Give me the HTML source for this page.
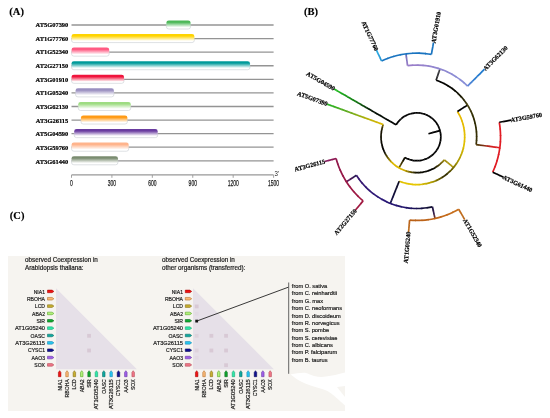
<!DOCTYPE html><html><head><meta charset="utf-8"><title>Figure</title>
<style>html,body{margin:0;padding:0;background:#fff}svg{display:block;filter:blur(0.35px)}.se{font-family:"Liberation Serif",serif;font-weight:bold}.sa{font-family:"Liberation Sans",sans-serif}</style></head><body>
<svg width="550" height="418" viewBox="0 0 550 418">
<rect width="550" height="418" fill="#fff"/>
<defs><linearGradient id="sg" x1="0" y1="0" x2="0" y2="1"><stop offset="0.3" stop-color="#c8cdd2" stop-opacity="0"/><stop offset="0.7" stop-color="#c8cdd2"/></linearGradient><linearGradient id="g0" x1="0" y1="0" x2="0" y2="1"><stop offset="0" stop-color="#4cb858"/><stop offset="0.22" stop-color="#4cb858"/><stop offset="0.8" stop-color="#fff"/><stop offset="1" stop-color="#fff"/></linearGradient><linearGradient id="g1" x1="0" y1="0" x2="0" y2="1"><stop offset="0" stop-color="#ffd400"/><stop offset="0.22" stop-color="#ffd400"/><stop offset="0.8" stop-color="#fff"/><stop offset="1" stop-color="#fff"/></linearGradient><linearGradient id="g2" x1="0" y1="0" x2="0" y2="1"><stop offset="0" stop-color="#ff5a82"/><stop offset="0.22" stop-color="#ff5a82"/><stop offset="0.8" stop-color="#fff"/><stop offset="1" stop-color="#fff"/></linearGradient><linearGradient id="g3" x1="0" y1="0" x2="0" y2="1"><stop offset="0" stop-color="#009a9a"/><stop offset="0.22" stop-color="#009a9a"/><stop offset="0.8" stop-color="#fff"/><stop offset="1" stop-color="#fff"/></linearGradient><linearGradient id="g4" x1="0" y1="0" x2="0" y2="1"><stop offset="0" stop-color="#f0143c"/><stop offset="0.22" stop-color="#f0143c"/><stop offset="0.8" stop-color="#fff"/><stop offset="1" stop-color="#fff"/></linearGradient><linearGradient id="g5" x1="0" y1="0" x2="0" y2="1"><stop offset="0" stop-color="#9a8fc0"/><stop offset="0.22" stop-color="#9a8fc0"/><stop offset="0.8" stop-color="#fff"/><stop offset="1" stop-color="#fff"/></linearGradient><linearGradient id="g6" x1="0" y1="0" x2="0" y2="1"><stop offset="0" stop-color="#9edc82"/><stop offset="0.22" stop-color="#9edc82"/><stop offset="0.8" stop-color="#fff"/><stop offset="1" stop-color="#fff"/></linearGradient><linearGradient id="g7" x1="0" y1="0" x2="0" y2="1"><stop offset="0" stop-color="#ff9a14"/><stop offset="0.22" stop-color="#ff9a14"/><stop offset="0.8" stop-color="#fff"/><stop offset="1" stop-color="#fff"/></linearGradient><linearGradient id="g8" x1="0" y1="0" x2="0" y2="1"><stop offset="0" stop-color="#6a3ca0"/><stop offset="0.22" stop-color="#6a3ca0"/><stop offset="0.8" stop-color="#fff"/><stop offset="1" stop-color="#fff"/></linearGradient><linearGradient id="g9" x1="0" y1="0" x2="0" y2="1"><stop offset="0" stop-color="#ffb48c"/><stop offset="0.22" stop-color="#ffb48c"/><stop offset="0.8" stop-color="#fff"/><stop offset="1" stop-color="#fff"/></linearGradient><linearGradient id="g10" x1="0" y1="0" x2="0" y2="1"><stop offset="0" stop-color="#7a8c70"/><stop offset="0.22" stop-color="#7a8c70"/><stop offset="0.8" stop-color="#fff"/><stop offset="1" stop-color="#fff"/></linearGradient></defs>
<text class="se" x="9.3" y="15.0" font-size="10.5" stroke="#000" stroke-width="0.15">(A)</text>
<line x1="71.5" y1="25.00" x2="273.6" y2="25.00" stroke="#949494" stroke-width="1.3"/>
<rect x="166.35" y="20.40" width="24.25" height="8.6" rx="2.4" fill="url(#g0)" stroke="url(#sg)" stroke-width="0.6"/>
<text class="se" x="68.3" y="27.20" font-size="6.45" text-anchor="end" stroke="#000" stroke-width="0.2">AT5G07390</text>
<line x1="71.5" y1="38.58" x2="273.6" y2="38.58" stroke="#949494" stroke-width="1.3"/>
<rect x="71.50" y="33.98" width="122.88" height="8.6" rx="2.4" fill="url(#g1)" stroke="url(#sg)" stroke-width="0.6"/>
<text class="se" x="68.3" y="40.84" font-size="6.45" text-anchor="end" stroke="#000" stroke-width="0.2">AT1G77760</text>
<line x1="71.5" y1="52.16" x2="273.6" y2="52.16" stroke="#949494" stroke-width="1.3"/>
<rect x="71.50" y="47.56" width="37.73" height="8.6" rx="2.4" fill="url(#g2)" stroke="url(#sg)" stroke-width="0.6"/>
<text class="se" x="68.3" y="54.48" font-size="6.45" text-anchor="end" stroke="#000" stroke-width="0.2">AT1G52340</text>
<line x1="71.5" y1="65.74" x2="273.6" y2="65.74" stroke="#949494" stroke-width="1.3"/>
<rect x="71.50" y="61.14" width="178.52" height="8.6" rx="2.4" fill="url(#g3)" stroke="url(#sg)" stroke-width="0.6"/>
<text class="se" x="68.3" y="68.12" font-size="6.45" text-anchor="end" stroke="#000" stroke-width="0.2">AT2G27150</text>
<line x1="71.5" y1="79.32" x2="273.6" y2="79.32" stroke="#949494" stroke-width="1.3"/>
<rect x="71.50" y="74.72" width="52.55" height="8.6" rx="2.4" fill="url(#g4)" stroke="url(#sg)" stroke-width="0.6"/>
<text class="se" x="68.3" y="81.76" font-size="6.45" text-anchor="end" stroke="#000" stroke-width="0.2">AT3G01910</text>
<line x1="71.5" y1="92.90" x2="273.6" y2="92.90" stroke="#949494" stroke-width="1.3"/>
<rect x="75.54" y="88.30" width="38.40" height="8.6" rx="2.4" fill="url(#g5)" stroke="url(#sg)" stroke-width="0.6"/>
<text class="se" x="68.3" y="95.40" font-size="6.45" text-anchor="end" stroke="#000" stroke-width="0.2">AT1G05240</text>
<line x1="71.5" y1="106.48" x2="273.6" y2="106.48" stroke="#949494" stroke-width="1.3"/>
<rect x="78.24" y="101.88" width="52.55" height="8.6" rx="2.4" fill="url(#g6)" stroke="url(#sg)" stroke-width="0.6"/>
<text class="se" x="68.3" y="109.04" font-size="6.45" text-anchor="end" stroke="#000" stroke-width="0.2">AT3G62130</text>
<line x1="71.5" y1="120.06" x2="273.6" y2="120.06" stroke="#949494" stroke-width="1.3"/>
<rect x="80.93" y="115.46" width="46.48" height="8.6" rx="2.4" fill="url(#g7)" stroke="url(#sg)" stroke-width="0.6"/>
<text class="se" x="68.3" y="122.68" font-size="6.45" text-anchor="end" stroke="#000" stroke-width="0.2">AT3G26115</text>
<line x1="71.5" y1="133.64" x2="273.6" y2="133.64" stroke="#949494" stroke-width="1.3"/>
<rect x="74.19" y="129.04" width="83.53" height="8.6" rx="2.4" fill="url(#g8)" stroke="url(#sg)" stroke-width="0.6"/>
<text class="se" x="68.3" y="136.32" font-size="6.45" text-anchor="end" stroke="#000" stroke-width="0.2">AT5G04590</text>
<line x1="71.5" y1="147.22" x2="273.6" y2="147.22" stroke="#949494" stroke-width="1.3"/>
<rect x="71.50" y="142.62" width="57.26" height="8.6" rx="2.4" fill="url(#g9)" stroke="url(#sg)" stroke-width="0.6"/>
<text class="se" x="68.3" y="149.96" font-size="6.45" text-anchor="end" stroke="#000" stroke-width="0.2">AT3G59760</text>
<line x1="71.5" y1="160.80" x2="273.6" y2="160.80" stroke="#949494" stroke-width="1.3"/>
<rect x="71.50" y="156.20" width="46.48" height="8.6" rx="2.4" fill="url(#g10)" stroke="url(#sg)" stroke-width="0.6"/>
<text class="se" x="68.3" y="163.60" font-size="6.45" text-anchor="end" stroke="#000" stroke-width="0.2">AT3G61440</text>
<line x1="71.5" y1="174.9" x2="273.6" y2="174.9" stroke="#989898" stroke-width="1.3"/>
<line x1="71.50" y1="175" x2="71.50" y2="177.8" stroke="#999" stroke-width="0.9"/>
<text class="sa" x="71.50" y="186.2" font-size="8.6" text-anchor="middle" textLength="2.8" lengthAdjust="spacingAndGlyphs" fill="#222" stroke="#222" stroke-width="0.25">0</text>
<line x1="111.92" y1="175" x2="111.92" y2="177.8" stroke="#999" stroke-width="0.9"/>
<text class="sa" x="111.92" y="186.2" font-size="8.6" text-anchor="middle" textLength="8.3" lengthAdjust="spacingAndGlyphs" fill="#222" stroke="#222" stroke-width="0.25">300</text>
<line x1="152.34" y1="175" x2="152.34" y2="177.8" stroke="#999" stroke-width="0.9"/>
<text class="sa" x="152.34" y="186.2" font-size="8.6" text-anchor="middle" textLength="8.3" lengthAdjust="spacingAndGlyphs" fill="#222" stroke="#222" stroke-width="0.25">600</text>
<line x1="192.76" y1="175" x2="192.76" y2="177.8" stroke="#999" stroke-width="0.9"/>
<text class="sa" x="192.76" y="186.2" font-size="8.6" text-anchor="middle" textLength="8.3" lengthAdjust="spacingAndGlyphs" fill="#222" stroke="#222" stroke-width="0.25">900</text>
<line x1="233.18" y1="175" x2="233.18" y2="177.8" stroke="#999" stroke-width="0.9"/>
<text class="sa" x="233.18" y="186.2" font-size="8.6" text-anchor="middle" textLength="11.1" lengthAdjust="spacingAndGlyphs" fill="#222" stroke="#222" stroke-width="0.25">1200</text>
<line x1="273.60" y1="175" x2="273.60" y2="177.8" stroke="#999" stroke-width="0.9"/>
<text class="sa" x="273.60" y="186.2" font-size="8.6" text-anchor="middle" textLength="11.1" lengthAdjust="spacingAndGlyphs" fill="#222" stroke="#222" stroke-width="0.25">1500</text>
<text class="sa" x="274.6" y="176.4" font-size="7.4" fill="#222" textLength="4.6" lengthAdjust="spacingAndGlyphs">3'</text>
<text class="se" x="304" y="15.0" font-size="10.5" stroke="#000" stroke-width="0.15">(B)</text>
<line x1="428.44" y1="133.71" x2="432.58" y2="132.60" stroke="rgb(0, 0, 0)" stroke-width="1.7" stroke-linecap="butt"/>
<line x1="432.29" y1="132.68" x2="436.43" y2="131.57" stroke="rgb(0, 0, 0)" stroke-width="1.7" stroke-linecap="butt"/>
<line x1="436.14" y1="131.65" x2="439.99" y2="130.61" stroke="rgb(0, 0, 0)" stroke-width="1.7" stroke-linecap="butt"/>
<path d="M396.20 124.85A23.9 23.9 0 0 1 397.23 123.22" fill="none" stroke="rgb(0, 0, 0)" stroke-width="1.7"/>
<path d="M397.09 123.42A23.9 23.9 0 0 1 398.24 121.87" fill="none" stroke="rgb(0, 0, 0)" stroke-width="1.7"/>
<path d="M398.08 122.07A23.9 23.9 0 0 1 399.33 120.60" fill="none" stroke="rgb(0, 0, 0)" stroke-width="1.7"/>
<path d="M399.16 120.78A23.9 23.9 0 0 1 400.51 119.40" fill="none" stroke="rgb(0, 0, 0)" stroke-width="1.7"/>
<path d="M400.33 119.57A23.9 23.9 0 0 1 401.78 118.29" fill="none" stroke="rgb(0, 0, 0)" stroke-width="1.7"/>
<path d="M401.59 118.45A23.9 23.9 0 0 1 403.12 117.28" fill="none" stroke="rgb(0, 0, 0)" stroke-width="1.7"/>
<path d="M402.91 117.42A23.9 23.9 0 0 1 404.52 116.35" fill="none" stroke="rgb(0, 0, 0)" stroke-width="1.7"/>
<path d="M404.31 116.49A23.9 23.9 0 0 1 405.99 115.54" fill="none" stroke="rgb(0, 0, 0)" stroke-width="1.7"/>
<path d="M405.77 115.65A23.9 23.9 0 0 1 407.51 114.82" fill="none" stroke="rgb(0, 0, 0)" stroke-width="1.7"/>
<path d="M407.28 114.92A23.9 23.9 0 0 1 409.08 114.22" fill="none" stroke="rgb(0, 0, 0)" stroke-width="1.7"/>
<path d="M408.84 114.30A23.9 23.9 0 0 1 410.69 113.72" fill="none" stroke="rgb(0, 0, 0)" stroke-width="1.7"/>
<path d="M410.44 113.79A23.9 23.9 0 0 1 412.32 113.34" fill="none" stroke="rgb(0, 0, 0)" stroke-width="1.7"/>
<path d="M412.08 113.39A23.9 23.9 0 0 1 413.98 113.08" fill="none" stroke="rgb(0, 0, 0)" stroke-width="1.7"/>
<path d="M413.73 113.11A23.9 23.9 0 0 1 415.66 112.93" fill="none" stroke="rgb(0, 0, 0)" stroke-width="1.7"/>
<path d="M415.41 112.95A23.9 23.9 0 0 1 417.34 112.90" fill="none" stroke="rgb(0, 0, 0)" stroke-width="1.7"/>
<path d="M417.09 112.90A23.9 23.9 0 0 1 419.02 112.99" fill="none" stroke="rgb(0, 0, 0)" stroke-width="1.7"/>
<path d="M418.77 112.97A23.9 23.9 0 0 1 420.68 113.20" fill="none" stroke="rgb(0, 0, 0)" stroke-width="1.7"/>
<path d="M420.44 113.16A23.9 23.9 0 0 1 422.33 113.53" fill="none" stroke="rgb(0, 0, 0)" stroke-width="1.7"/>
<path d="M422.09 113.47A23.9 23.9 0 0 1 423.95 113.96" fill="none" stroke="rgb(0, 0, 0)" stroke-width="1.7"/>
<path d="M423.71 113.89A23.9 23.9 0 0 1 425.54 114.52" fill="none" stroke="rgb(0, 0, 0)" stroke-width="1.7"/>
<path d="M425.31 114.43A23.9 23.9 0 0 1 427.09 115.18" fill="none" stroke="rgb(0, 0, 0)" stroke-width="1.7"/>
<path d="M426.86 115.07A23.9 23.9 0 0 1 428.58 115.95" fill="none" stroke="rgb(0, 0, 0)" stroke-width="1.7"/>
<path d="M428.36 115.83A23.9 23.9 0 0 1 430.02 116.82" fill="none" stroke="rgb(0, 0, 0)" stroke-width="1.7"/>
<path d="M429.81 116.68A23.9 23.9 0 0 1 431.39 117.79" fill="none" stroke="rgb(0, 0, 0)" stroke-width="1.7"/>
<path d="M431.19 117.64A23.9 23.9 0 0 1 432.69 118.86" fill="none" stroke="rgb(0, 0, 0)" stroke-width="1.7"/>
<path d="M432.50 118.69A23.9 23.9 0 0 1 433.91 120.01" fill="none" stroke="rgb(0, 0, 0)" stroke-width="1.7"/>
<path d="M433.73 119.83A23.9 23.9 0 0 1 435.05 121.25" fill="none" stroke="rgb(0, 0, 0)" stroke-width="1.7"/>
<path d="M434.88 121.06A23.9 23.9 0 0 1 436.10 122.56" fill="none" stroke="rgb(0, 0, 0)" stroke-width="1.7"/>
<path d="M435.95 122.36A23.9 23.9 0 0 1 437.05 123.95" fill="none" stroke="rgb(0, 0, 0)" stroke-width="1.7"/>
<path d="M436.91 123.74A23.9 23.9 0 0 1 437.90 125.39" fill="none" stroke="rgb(0, 0, 0)" stroke-width="1.7"/>
<path d="M437.78 125.17A23.9 23.9 0 0 1 438.65 126.90" fill="none" stroke="rgb(0, 0, 0)" stroke-width="1.7"/>
<path d="M438.55 126.67A23.9 23.9 0 0 1 439.29 128.45" fill="none" stroke="rgb(0, 0, 0)" stroke-width="1.7"/>
<path d="M439.21 128.22A23.9 23.9 0 0 1 439.83 130.05" fill="none" stroke="rgb(0, 0, 0)" stroke-width="1.7"/>
<path d="M439.75 129.81A23.9 23.9 0 0 1 440.24 131.67" fill="none" stroke="rgb(0, 0, 0)" stroke-width="1.7"/>
<path d="M440.19 131.43A23.9 23.9 0 0 1 440.55 133.33" fill="none" stroke="rgb(0, 0, 0)" stroke-width="1.7"/>
<path d="M440.51 133.08A23.9 23.9 0 0 1 440.73 135.00" fill="none" stroke="rgb(0, 0, 0)" stroke-width="1.7"/>
<path d="M440.71 134.75A23.9 23.9 0 0 1 440.80 136.68" fill="none" stroke="rgb(0, 0, 0)" stroke-width="1.7"/>
<path d="M440.80 136.43A23.9 23.9 0 0 1 440.75 138.36" fill="none" stroke="rgb(0, 0, 0)" stroke-width="1.7"/>
<path d="M440.76 138.11A23.9 23.9 0 0 1 440.58 140.03" fill="none" stroke="rgb(0, 0, 0)" stroke-width="1.7"/>
<path d="M440.61 139.78A23.9 23.9 0 0 1 440.30 141.69" fill="none" stroke="rgb(0, 0, 0)" stroke-width="1.7"/>
<path d="M440.35 141.44A23.9 23.9 0 0 1 439.89 143.32" fill="none" stroke="rgb(0, 0, 0)" stroke-width="1.7"/>
<path d="M439.96 143.08A23.9 23.9 0 0 1 439.38 144.92" fill="none" stroke="rgb(0, 0, 0)" stroke-width="1.7"/>
<path d="M439.46 144.68A23.9 23.9 0 0 1 438.75 146.48" fill="none" stroke="rgb(0, 0, 0)" stroke-width="1.7"/>
<path d="M438.85 146.25A23.9 23.9 0 0 1 438.02 147.99" fill="none" stroke="rgb(0, 0, 0)" stroke-width="1.7"/>
<path d="M438.14 147.77A23.9 23.9 0 0 1 437.18 149.45" fill="none" stroke="rgb(0, 0, 0)" stroke-width="1.7"/>
<path d="M437.31 149.23A23.9 23.9 0 0 1 436.24 150.84" fill="none" stroke="rgb(0, 0, 0)" stroke-width="1.7"/>
<path d="M436.39 150.64A23.9 23.9 0 0 1 435.21 152.16" fill="none" stroke="rgb(0, 0, 0)" stroke-width="1.7"/>
<path d="M435.37 151.97A23.9 23.9 0 0 1 434.08 153.41" fill="none" stroke="rgb(0, 0, 0)" stroke-width="1.7"/>
<path d="M434.26 153.23A23.9 23.9 0 0 1 432.87 154.58" fill="none" stroke="rgb(0, 0, 0)" stroke-width="1.7"/>
<path d="M433.06 154.41A23.9 23.9 0 0 1 431.58 155.66" fill="none" stroke="rgb(0, 0, 0)" stroke-width="1.7"/>
<path d="M431.78 155.50A23.9 23.9 0 0 1 430.22 156.64" fill="none" stroke="rgb(0, 0, 0)" stroke-width="1.7"/>
<path d="M430.43 156.50A23.9 23.9 0 0 1 428.79 157.53" fill="none" stroke="rgb(0, 0, 0)" stroke-width="1.7"/>
<path d="M429.01 157.40A23.9 23.9 0 0 1 427.31 158.31" fill="none" stroke="rgb(0, 0, 0)" stroke-width="1.7"/>
<path d="M427.53 158.20A23.9 23.9 0 0 1 425.77 158.99" fill="none" stroke="rgb(0, 0, 0)" stroke-width="1.7"/>
<path d="M426.00 158.90A23.9 23.9 0 0 1 424.19 159.56" fill="none" stroke="rgb(0, 0, 0)" stroke-width="1.7"/>
<path d="M424.43 159.48A23.9 23.9 0 0 1 422.57 160.02" fill="none" stroke="rgb(0, 0, 0)" stroke-width="1.7"/>
<path d="M422.81 159.96A23.9 23.9 0 0 1 420.93 160.36" fill="none" stroke="rgb(0, 0, 0)" stroke-width="1.7"/>
<path d="M421.17 160.31A23.9 23.9 0 0 1 419.26 160.58" fill="none" stroke="rgb(0, 0, 0)" stroke-width="1.7"/>
<path d="M419.51 160.56A23.9 23.9 0 0 1 417.58 160.69" fill="none" stroke="rgb(0, 0, 0)" stroke-width="1.7"/>
<path d="M417.83 160.68A23.9 23.9 0 0 1 415.90 160.68" fill="none" stroke="rgb(0, 0, 0)" stroke-width="1.7"/>
<path d="M416.15 160.69A23.9 23.9 0 0 1 414.23 160.55" fill="none" stroke="rgb(0, 0, 0)" stroke-width="1.7"/>
<path d="M414.48 160.58A23.9 23.9 0 0 1 412.56 160.30" fill="none" stroke="rgb(0, 0, 0)" stroke-width="1.7"/>
<path d="M412.81 160.35A23.9 23.9 0 0 1 410.92 159.94" fill="none" stroke="rgb(0, 0, 0)" stroke-width="1.7"/>
<path d="M411.17 160.00A23.9 23.9 0 0 1 409.31 159.46" fill="none" stroke="rgb(0, 0, 0)" stroke-width="1.7"/>
<path d="M409.55 159.54A23.9 23.9 0 0 1 407.74 158.87" fill="none" stroke="rgb(0, 0, 0)" stroke-width="1.7"/>
<path d="M407.97 158.97A23.9 23.9 0 0 1 406.21 158.18" fill="none" stroke="rgb(0, 0, 0)" stroke-width="1.7"/>
<path d="M406.43 158.29A23.9 23.9 0 0 1 404.95 157.50" fill="none" stroke="rgb(0, 0, 0)" stroke-width="1.7"/>
<line x1="396.20" y1="124.85" x2="393.24" y2="123.14" stroke="rgb(0, 1, 0)" stroke-width="1.7" stroke-linecap="butt"/>
<line x1="393.50" y1="123.29" x2="390.54" y2="121.58" stroke="rgb(0, 3, 0)" stroke-width="1.7" stroke-linecap="butt"/>
<line x1="390.80" y1="121.73" x2="387.84" y2="120.02" stroke="rgb(1, 4, 1)" stroke-width="1.7" stroke-linecap="butt"/>
<line x1="388.10" y1="120.17" x2="385.14" y2="118.47" stroke="rgb(1, 6, 1)" stroke-width="1.7" stroke-linecap="butt"/>
<line x1="385.40" y1="118.62" x2="382.44" y2="116.91" stroke="rgb(1, 8, 1)" stroke-width="1.7" stroke-linecap="butt"/>
<line x1="382.70" y1="117.06" x2="379.74" y2="115.35" stroke="rgb(1, 10, 1)" stroke-width="1.7" stroke-linecap="butt"/>
<line x1="380.00" y1="115.50" x2="377.04" y2="113.79" stroke="rgb(1, 11, 1)" stroke-width="1.7" stroke-linecap="butt"/>
<line x1="377.30" y1="113.94" x2="374.34" y2="112.23" stroke="rgb(2, 13, 2)" stroke-width="1.7" stroke-linecap="butt"/>
<line x1="374.60" y1="112.38" x2="371.64" y2="110.67" stroke="rgb(2, 15, 2)" stroke-width="1.7" stroke-linecap="butt"/>
<line x1="371.90" y1="110.82" x2="368.94" y2="109.11" stroke="rgb(3, 21, 3)" stroke-width="1.7" stroke-linecap="butt"/>
<line x1="369.20" y1="109.26" x2="366.25" y2="107.55" stroke="rgb(6, 40, 6)" stroke-width="1.7" stroke-linecap="butt"/>
<line x1="366.50" y1="107.70" x2="363.55" y2="106.00" stroke="rgb(8, 58, 8)" stroke-width="1.7" stroke-linecap="butt"/>
<line x1="363.81" y1="106.15" x2="360.85" y2="104.44" stroke="rgb(11, 76, 11)" stroke-width="1.7" stroke-linecap="butt"/>
<line x1="361.11" y1="104.59" x2="358.15" y2="102.88" stroke="rgb(14, 94, 14)" stroke-width="1.7" stroke-linecap="butt"/>
<line x1="358.41" y1="103.03" x2="355.45" y2="101.32" stroke="rgb(17, 112, 17)" stroke-width="1.7" stroke-linecap="butt"/>
<line x1="355.71" y1="101.47" x2="352.75" y2="99.76" stroke="rgb(19, 125, 19)" stroke-width="1.7" stroke-linecap="butt"/>
<line x1="353.01" y1="99.91" x2="350.05" y2="98.20" stroke="rgb(21, 134, 21)" stroke-width="1.7" stroke-linecap="butt"/>
<line x1="350.31" y1="98.35" x2="347.35" y2="96.64" stroke="rgb(22, 143, 22)" stroke-width="1.7" stroke-linecap="butt"/>
<line x1="347.61" y1="96.79" x2="344.65" y2="95.08" stroke="rgb(24, 152, 24)" stroke-width="1.7" stroke-linecap="butt"/>
<line x1="344.91" y1="95.23" x2="341.95" y2="93.53" stroke="rgb(26, 161, 26)" stroke-width="1.7" stroke-linecap="butt"/>
<line x1="342.21" y1="93.68" x2="339.25" y2="91.97" stroke="rgb(28, 170, 28)" stroke-width="1.7" stroke-linecap="butt"/>
<line x1="339.51" y1="92.12" x2="336.55" y2="90.41" stroke="rgb(29, 179, 29)" stroke-width="1.7" stroke-linecap="butt"/>
<line x1="336.81" y1="90.56" x2="334.11" y2="89.00" stroke="rgb(31, 188, 31)" stroke-width="1.7" stroke-linecap="butt"/>
<line x1="404.95" y1="157.50" x2="402.81" y2="161.21" stroke="rgb(19, 15, 0)" stroke-width="1.7" stroke-linecap="butt"/>
<line x1="402.96" y1="160.95" x2="400.82" y2="164.66" stroke="rgb(56, 46, 0)" stroke-width="1.7" stroke-linecap="butt"/>
<line x1="400.97" y1="164.40" x2="398.97" y2="167.85" stroke="rgb(93, 77, 0)" stroke-width="1.7" stroke-linecap="butt"/>
<path d="M383.21 124.54A35.849999999999994 35.849999999999994 0 0 0 382.34 127.28" fill="none" stroke="rgb(102, 86, 0)" stroke-width="1.7"/>
<path d="M382.44 126.92A35.849999999999994 35.849999999999994 0 0 0 381.76 129.71" fill="none" stroke="rgb(51, 43, 0)" stroke-width="1.7"/>
<path d="M381.83 129.35A35.849999999999994 35.849999999999994 0 0 0 381.35 132.18" fill="none" stroke="rgb(25, 21, 0)" stroke-width="1.7"/>
<path d="M381.40 131.81A35.849999999999994 35.849999999999994 0 0 0 381.11 134.67" fill="none" stroke="rgb(22, 18, 0)" stroke-width="1.7"/>
<path d="M381.14 134.30A35.849999999999994 35.849999999999994 0 0 0 381.05 137.18" fill="none" stroke="rgb(19, 16, 0)" stroke-width="1.7"/>
<path d="M381.05 136.80A35.849999999999994 35.849999999999994 0 0 0 381.17 139.68" fill="none" stroke="rgb(16, 14, 0)" stroke-width="1.7"/>
<path d="M381.14 139.30A35.849999999999994 35.849999999999994 0 0 0 381.45 142.16" fill="none" stroke="rgb(13, 11, 0)" stroke-width="1.7"/>
<path d="M381.40 141.79A35.849999999999994 35.849999999999994 0 0 0 381.91 144.62" fill="none" stroke="rgb(10, 9, 0)" stroke-width="1.7"/>
<path d="M381.83 144.25A35.849999999999994 35.849999999999994 0 0 0 382.54 147.04" fill="none" stroke="rgb(8, 6, 0)" stroke-width="1.7"/>
<path d="M382.44 146.68A35.849999999999994 35.849999999999994 0 0 0 383.34 149.41" fill="none" stroke="rgb(5, 4, 0)" stroke-width="1.7"/>
<path d="M383.21 149.06A35.849999999999994 35.849999999999994 0 0 0 384.30 151.72" fill="none" stroke="rgb(2, 2, 0)" stroke-width="1.7"/>
<path d="M384.15 151.38A35.849999999999994 35.849999999999994 0 0 0 385.42 153.96" fill="none" stroke="rgb(12, 10, 0)" stroke-width="1.7"/>
<path d="M385.25 153.63A35.849999999999994 35.849999999999994 0 0 0 386.70 156.11" fill="none" stroke="rgb(52, 44, 0)" stroke-width="1.7"/>
<path d="M386.50 155.80A35.849999999999994 35.849999999999994 0 0 0 388.12 158.17" fill="none" stroke="rgb(92, 77, 0)" stroke-width="1.7"/>
<path d="M387.90 157.87A35.849999999999994 35.849999999999994 0 0 0 389.68 160.13" fill="none" stroke="rgb(132, 111, 0)" stroke-width="1.7"/>
<path d="M389.44 159.84A35.849999999999994 35.849999999999994 0 0 0 391.37 161.97" fill="none" stroke="rgb(172, 144, 0)" stroke-width="1.7"/>
<path d="M391.11 161.70A35.849999999999994 35.849999999999994 0 0 0 393.19 163.69" fill="none" stroke="rgb(212, 178, 0)" stroke-width="1.7"/>
<path d="M392.91 163.44A35.849999999999994 35.849999999999994 0 0 0 395.13 165.28" fill="none" stroke="rgb(223, 187, 0)" stroke-width="1.7"/>
<path d="M394.83 165.05A35.849999999999994 35.849999999999994 0 0 0 397.17 166.73" fill="none" stroke="rgb(221, 185, 0)" stroke-width="1.7"/>
<path d="M396.85 166.52A35.849999999999994 35.849999999999994 0 0 0 399.30 168.03" fill="none" stroke="rgb(220, 184, 0)" stroke-width="1.7"/>
<path d="M398.97 167.85A35.849999999999994 35.849999999999994 0 0 0 401.52 169.18" fill="none" stroke="rgb(218, 182, 0)" stroke-width="1.7"/>
<path d="M401.18 169.02A35.849999999999994 35.849999999999994 0 0 0 403.82 170.18" fill="none" stroke="rgb(217, 181, 0)" stroke-width="1.7"/>
<path d="M403.47 170.04A35.849999999999994 35.849999999999994 0 0 0 406.18 171.01" fill="none" stroke="rgb(197, 164, 0)" stroke-width="1.7"/>
<path d="M405.82 170.90A35.849999999999994 35.849999999999994 0 0 0 408.59 171.67" fill="none" stroke="rgb(158, 133, 0)" stroke-width="1.7"/>
<path d="M408.23 171.59A35.849999999999994 35.849999999999994 0 0 0 411.04 172.17" fill="none" stroke="rgb(120, 101, 0)" stroke-width="1.7"/>
<path d="M410.67 172.11A35.849999999999994 35.849999999999994 0 0 0 413.53 172.49" fill="none" stroke="rgb(81, 70, 0)" stroke-width="1.7"/>
<path d="M413.15 172.45A35.849999999999994 35.849999999999994 0 0 0 416.02 172.64" fill="none" stroke="rgb(43, 38, 0)" stroke-width="1.7"/>
<path d="M415.65 172.63A35.849999999999994 35.849999999999994 0 0 0 418.53 172.61" fill="none" stroke="rgb(15, 15, 0)" stroke-width="1.7"/>
<path d="M418.15 172.63A35.849999999999994 35.849999999999994 0 0 0 421.02 172.41" fill="none" stroke="rgb(13, 13, 0)" stroke-width="1.7"/>
<path d="M420.65 172.45A35.849999999999994 35.849999999999994 0 0 0 423.49 172.04" fill="none" stroke="rgb(11, 11, 0)" stroke-width="1.7"/>
<path d="M423.13 172.11A35.849999999999994 35.849999999999994 0 0 0 425.94 171.49" fill="none" stroke="rgb(8, 8, 0)" stroke-width="1.7"/>
<path d="M425.57 171.59A35.849999999999994 35.849999999999994 0 0 0 428.33 170.78" fill="none" stroke="rgb(6, 6, 0)" stroke-width="1.7"/>
<path d="M427.98 170.90A35.849999999999994 35.849999999999994 0 0 0 430.68 169.90" fill="none" stroke="rgb(4, 4, 0)" stroke-width="1.7"/>
<path d="M430.33 170.04A35.849999999999994 35.849999999999994 0 0 0 432.95 168.86" fill="none" stroke="rgb(1, 1, 0)" stroke-width="1.7"/>
<path d="M432.62 169.02A35.849999999999994 35.849999999999994 0 0 0 435.15 167.66" fill="none" stroke="rgb(13, 12, 1)" stroke-width="1.7"/>
<path d="M434.82 167.85A35.849999999999994 35.849999999999994 0 0 0 437.26 166.31" fill="none" stroke="rgb(40, 35, 4)" stroke-width="1.7"/>
<path d="M436.95 166.52A35.849999999999994 35.849999999999994 0 0 0 439.27 164.82" fill="none" stroke="rgb(67, 58, 7)" stroke-width="1.7"/>
<path d="M438.97 165.05A35.849999999999994 35.849999999999994 0 0 0 441.17 163.19" fill="none" stroke="rgb(93, 82, 9)" stroke-width="1.7"/>
<path d="M440.89 163.44A35.849999999999994 35.849999999999994 0 0 0 442.95 161.43" fill="none" stroke="rgb(120, 105, 12)" stroke-width="1.7"/>
<path d="M442.69 161.70A35.849999999999994 35.849999999999994 0 0 0 444.36 159.84" fill="none" stroke="rgb(147, 128, 15)" stroke-width="1.7"/>
<line x1="383.21" y1="124.54" x2="379.98" y2="123.36" stroke="rgb(220, 183, 1)" stroke-width="1.7" stroke-linecap="butt"/>
<line x1="380.26" y1="123.46" x2="377.02" y2="122.28" stroke="rgb(212, 182, 2)" stroke-width="1.7" stroke-linecap="butt"/>
<line x1="377.30" y1="122.39" x2="374.06" y2="121.21" stroke="rgb(205, 180, 4)" stroke-width="1.7" stroke-linecap="butt"/>
<line x1="374.35" y1="121.31" x2="371.11" y2="120.13" stroke="rgb(197, 179, 5)" stroke-width="1.7" stroke-linecap="butt"/>
<line x1="371.39" y1="120.24" x2="368.15" y2="119.06" stroke="rgb(189, 178, 6)" stroke-width="1.7" stroke-linecap="butt"/>
<line x1="368.44" y1="119.16" x2="365.20" y2="117.98" stroke="rgb(182, 176, 8)" stroke-width="1.7" stroke-linecap="butt"/>
<line x1="365.48" y1="118.09" x2="362.24" y2="116.91" stroke="rgb(169, 175, 10)" stroke-width="1.7" stroke-linecap="butt"/>
<line x1="362.53" y1="117.01" x2="359.29" y2="115.83" stroke="rgb(155, 174, 12)" stroke-width="1.7" stroke-linecap="butt"/>
<line x1="359.57" y1="115.93" x2="356.33" y2="114.76" stroke="rgb(141, 173, 15)" stroke-width="1.7" stroke-linecap="butt"/>
<line x1="356.62" y1="114.86" x2="353.38" y2="113.68" stroke="rgb(127, 171, 17)" stroke-width="1.7" stroke-linecap="butt"/>
<line x1="353.66" y1="113.78" x2="350.42" y2="112.60" stroke="rgb(114, 170, 20)" stroke-width="1.7" stroke-linecap="butt"/>
<line x1="350.71" y1="112.71" x2="347.47" y2="111.53" stroke="rgb(100, 169, 22)" stroke-width="1.7" stroke-linecap="butt"/>
<line x1="347.75" y1="111.63" x2="344.51" y2="110.45" stroke="rgb(87, 168, 24)" stroke-width="1.7" stroke-linecap="butt"/>
<line x1="344.80" y1="110.56" x2="341.56" y2="109.38" stroke="rgb(79, 170, 26)" stroke-width="1.7" stroke-linecap="butt"/>
<line x1="341.84" y1="109.48" x2="338.60" y2="108.30" stroke="rgb(71, 172, 27)" stroke-width="1.7" stroke-linecap="butt"/>
<line x1="338.89" y1="108.41" x2="335.65" y2="107.23" stroke="rgb(62, 174, 29)" stroke-width="1.7" stroke-linecap="butt"/>
<line x1="335.93" y1="107.33" x2="332.69" y2="106.15" stroke="rgb(54, 175, 30)" stroke-width="1.7" stroke-linecap="butt"/>
<line x1="332.98" y1="106.25" x2="329.74" y2="105.08" stroke="rgb(46, 177, 32)" stroke-width="1.7" stroke-linecap="butt"/>
<line x1="330.02" y1="105.18" x2="327.07" y2="104.10" stroke="rgb(38, 179, 33)" stroke-width="1.7" stroke-linecap="butt"/>
<line x1="444.36" y1="159.84" x2="447.64" y2="162.60" stroke="rgb(164, 143, 16)" stroke-width="1.7" stroke-linecap="butt"/>
<line x1="447.41" y1="162.40" x2="450.70" y2="165.16" stroke="rgb(172, 150, 16)" stroke-width="1.7" stroke-linecap="butt"/>
<line x1="450.47" y1="164.96" x2="453.52" y2="167.53" stroke="rgb(180, 157, 16)" stroke-width="1.7" stroke-linecap="butt"/>
<path d="M457.44 111.47A47.8 47.8 0 0 1 459.38 114.88" fill="none" stroke="rgb(232, 184, 0)" stroke-width="1.7"/>
<path d="M459.15 114.44A47.8 47.8 0 0 1 460.84 117.98" fill="none" stroke="rgb(231, 185, 0)" stroke-width="1.7"/>
<path d="M460.64 117.52A47.8 47.8 0 0 1 462.07 121.18" fill="none" stroke="rgb(230, 186, 0)" stroke-width="1.7"/>
<path d="M461.91 120.70A47.8 47.8 0 0 1 463.08 124.45" fill="none" stroke="rgb(229, 187, 0)" stroke-width="1.7"/>
<path d="M462.95 123.97A47.8 47.8 0 0 1 463.84 127.79" fill="none" stroke="rgb(229, 187, 0)" stroke-width="1.7"/>
<path d="M463.75 127.30A47.8 47.8 0 0 1 464.37 131.18" fill="none" stroke="rgb(228, 188, 0)" stroke-width="1.7"/>
<path d="M464.31 130.68A47.8 47.8 0 0 1 464.65 134.59" fill="none" stroke="rgb(227, 189, 0)" stroke-width="1.7"/>
<path d="M464.62 134.09A47.8 47.8 0 0 1 464.68 138.02" fill="none" stroke="rgb(226, 190, 0)" stroke-width="1.7"/>
<path d="M464.69 137.52A47.8 47.8 0 0 1 464.47 141.43" fill="none" stroke="rgb(226, 190, 0)" stroke-width="1.7"/>
<path d="M464.52 140.94A47.8 47.8 0 0 1 464.02 144.83" fill="none" stroke="rgb(225, 191, 0)" stroke-width="1.7"/>
<path d="M464.10 144.34A47.8 47.8 0 0 1 463.32 148.18" fill="none" stroke="rgb(224, 192, 0)" stroke-width="1.7"/>
<path d="M463.44 147.70A47.8 47.8 0 0 1 462.39 151.48" fill="none" stroke="rgb(212, 183, 0)" stroke-width="1.7"/>
<path d="M462.54 151.00A47.8 47.8 0 0 1 461.22 154.70" fill="none" stroke="rgb(200, 174, 0)" stroke-width="1.7"/>
<path d="M461.41 154.24A47.8 47.8 0 0 1 459.83 157.83" fill="none" stroke="rgb(187, 165, 0)" stroke-width="1.7"/>
<path d="M460.04 157.38A47.8 47.8 0 0 1 458.21 160.85" fill="none" stroke="rgb(175, 155, 0)" stroke-width="1.7"/>
<path d="M458.46 160.42A47.8 47.8 0 0 1 456.38 163.75" fill="none" stroke="rgb(163, 146, 0)" stroke-width="1.7"/>
<path d="M456.66 163.33A47.8 47.8 0 0 1 454.35 166.50" fill="none" stroke="rgb(143, 129, 0)" stroke-width="1.7"/>
<path d="M454.66 166.11A47.8 47.8 0 0 1 452.13 169.11" fill="none" stroke="rgb(120, 108, 0)" stroke-width="1.7"/>
<path d="M452.46 168.74A47.8 47.8 0 0 1 449.72 171.55" fill="none" stroke="rgb(97, 87, 0)" stroke-width="1.7"/>
<path d="M450.08 171.21A47.8 47.8 0 0 1 447.15 173.81" fill="none" stroke="rgb(74, 67, 0)" stroke-width="1.7"/>
<path d="M447.53 173.49A47.8 47.8 0 0 1 444.42 175.88" fill="none" stroke="rgb(51, 46, 0)" stroke-width="1.7"/>
<path d="M444.83 175.59A47.8 47.8 0 0 1 441.55 177.75" fill="none" stroke="rgb(56, 50, 0)" stroke-width="1.7"/>
<path d="M441.98 177.49A47.8 47.8 0 0 1 438.55 179.41" fill="none" stroke="rgb(89, 79, 0)" stroke-width="1.7"/>
<path d="M439.00 179.19A47.8 47.8 0 0 1 435.45 180.86" fill="none" stroke="rgb(121, 107, 0)" stroke-width="1.7"/>
<path d="M435.91 180.66A47.8 47.8 0 0 1 432.24 182.07" fill="none" stroke="rgb(153, 136, 0)" stroke-width="1.7"/>
<path d="M432.72 181.91A47.8 47.8 0 0 1 428.96 183.05" fill="none" stroke="rgb(180, 159, 0)" stroke-width="1.7"/>
<path d="M429.44 182.92A47.8 47.8 0 0 1 425.62 183.80" fill="none" stroke="rgb(192, 169, 0)" stroke-width="1.7"/>
<path d="M426.11 183.70A47.8 47.8 0 0 1 422.23 184.30" fill="none" stroke="rgb(204, 178, 0)" stroke-width="1.7"/>
<path d="M422.73 184.24A47.8 47.8 0 0 1 418.81 184.56" fill="none" stroke="rgb(217, 188, 0)" stroke-width="1.7"/>
<path d="M419.31 184.54A47.8 47.8 0 0 1 415.39 184.58" fill="none" stroke="rgb(229, 198, 0)" stroke-width="1.7"/>
<path d="M415.89 184.59A47.8 47.8 0 0 1 411.97 184.34" fill="none" stroke="rgb(231, 199, 0)" stroke-width="1.7"/>
<path d="M412.47 184.39A47.8 47.8 0 0 1 408.58 183.87" fill="none" stroke="rgb(229, 197, 0)" stroke-width="1.7"/>
<path d="M409.07 183.95A47.8 47.8 0 0 1 405.23 183.15" fill="none" stroke="rgb(228, 196, 0)" stroke-width="1.7"/>
<path d="M405.71 183.27A47.8 47.8 0 0 1 401.94 182.20" fill="none" stroke="rgb(226, 194, 0)" stroke-width="1.7"/>
<path d="M402.41 182.35A47.8 47.8 0 0 1 399.19 181.20" fill="none" stroke="rgb(225, 193, 0)" stroke-width="1.7"/>
<line x1="457.44" y1="111.47" x2="461.07" y2="109.20" stroke="rgb(0, 0, 0)" stroke-width="1.7" stroke-linecap="butt"/>
<line x1="460.81" y1="109.36" x2="464.45" y2="107.09" stroke="rgb(0, 0, 0)" stroke-width="1.7" stroke-linecap="butt"/>
<line x1="464.19" y1="107.25" x2="467.57" y2="105.14" stroke="rgb(0, 0, 0)" stroke-width="1.7" stroke-linecap="butt"/>
<path d="M436.11 80.22A59.75 59.75 0 0 1 440.72 82.00" fill="none" stroke="rgb(1, 1, 0)" stroke-width="1.7"/>
<path d="M440.15 81.76A59.75 59.75 0 0 1 444.62 83.87" fill="none" stroke="rgb(3, 3, 0)" stroke-width="1.7"/>
<path d="M444.06 83.58A59.75 59.75 0 0 1 448.37 86.01" fill="none" stroke="rgb(4, 4, 0)" stroke-width="1.7"/>
<path d="M447.84 85.68A59.75 59.75 0 0 1 451.96 88.42" fill="none" stroke="rgb(6, 6, 0)" stroke-width="1.7"/>
<path d="M451.45 88.05A59.75 59.75 0 0 1 455.37 91.08" fill="none" stroke="rgb(8, 8, 0)" stroke-width="1.7"/>
<path d="M454.88 90.68A59.75 59.75 0 0 1 458.57 93.98" fill="none" stroke="rgb(10, 10, 0)" stroke-width="1.7"/>
<path d="M458.12 93.54A59.75 59.75 0 0 1 461.56 97.10" fill="none" stroke="rgb(23, 22, 3)" stroke-width="1.7"/>
<path d="M461.14 96.64A59.75 59.75 0 0 1 464.31 100.43" fill="none" stroke="rgb(39, 37, 8)" stroke-width="1.7"/>
<path d="M463.92 99.94A59.75 59.75 0 0 1 466.81 103.95" fill="none" stroke="rgb(56, 51, 12)" stroke-width="1.7"/>
<path d="M466.47 103.43A59.75 59.75 0 0 1 469.06 107.65" fill="none" stroke="rgb(72, 66, 16)" stroke-width="1.7"/>
<path d="M468.75 107.10A59.75 59.75 0 0 1 471.03 111.49" fill="none" stroke="rgb(64, 59, 12)" stroke-width="1.7"/>
<path d="M470.76 110.93A59.75 59.75 0 0 1 472.71 115.47" fill="none" stroke="rgb(56, 52, 8)" stroke-width="1.7"/>
<path d="M472.49 114.89A59.75 59.75 0 0 1 474.11 119.56" fill="none" stroke="rgb(48, 45, 3)" stroke-width="1.7"/>
<path d="M473.93 118.96A59.75 59.75 0 0 1 475.21 123.74" fill="none" stroke="rgb(43, 40, 0)" stroke-width="1.7"/>
<path d="M475.07 123.13A59.75 59.75 0 0 1 476.00 127.99" fill="none" stroke="rgb(46, 42, 2)" stroke-width="1.7"/>
<path d="M475.90 127.37A59.75 59.75 0 0 1 476.48 132.28" fill="none" stroke="rgb(49, 44, 3)" stroke-width="1.7"/>
<path d="M476.43 131.66A59.75 59.75 0 0 1 476.65 136.60" fill="none" stroke="rgb(52, 46, 4)" stroke-width="1.7"/>
<path d="M476.64 135.98A59.75 59.75 0 0 1 476.51 140.92" fill="none" stroke="rgb(55, 47, 6)" stroke-width="1.7"/>
<path d="M476.55 140.30A59.75 59.75 0 0 1 476.14 144.60" fill="none" stroke="rgb(58, 49, 7)" stroke-width="1.7"/>
<line x1="436.11" y1="80.22" x2="437.48" y2="76.16" stroke="rgb(37, 37, 39)" stroke-width="1.7" stroke-linecap="butt"/>
<line x1="437.39" y1="76.45" x2="438.76" y2="72.39" stroke="rgb(48, 48, 52)" stroke-width="1.7" stroke-linecap="butt"/>
<line x1="438.67" y1="72.68" x2="439.95" y2="68.91" stroke="rgb(59, 59, 65)" stroke-width="1.7" stroke-linecap="butt"/>
<path d="M407.54 65.71A71.69999999999999 71.69999999999999 0 0 1 413.32 65.19" fill="none" stroke="rgb(153, 125, 201)" stroke-width="1.7"/>
<path d="M412.57 65.23A71.69999999999999 71.69999999999999 0 0 1 418.37 65.12" fill="none" stroke="rgb(152, 127, 202)" stroke-width="1.7"/>
<path d="M417.62 65.10A71.69999999999999 71.69999999999999 0 0 1 423.42 65.40" fill="none" stroke="rgb(150, 129, 203)" stroke-width="1.7"/>
<path d="M422.67 65.33A71.69999999999999 71.69999999999999 0 0 1 428.43 66.03" fill="none" stroke="rgb(149, 130, 204)" stroke-width="1.7"/>
<path d="M427.69 65.92A71.69999999999999 71.69999999999999 0 0 1 433.39 67.02" fill="none" stroke="rgb(147, 132, 206)" stroke-width="1.7"/>
<path d="M432.65 66.85A71.69999999999999 71.69999999999999 0 0 1 438.26 68.36" fill="none" stroke="rgb(146, 134, 207)" stroke-width="1.7"/>
<path d="M437.54 68.14A71.69999999999999 71.69999999999999 0 0 1 443.03 70.03" fill="none" stroke="rgb(144, 136, 208)" stroke-width="1.7"/>
<path d="M442.33 69.76A71.69999999999999 71.69999999999999 0 0 1 447.66 72.03" fill="none" stroke="rgb(143, 137, 209)" stroke-width="1.7"/>
<path d="M446.98 71.72A71.69999999999999 71.69999999999999 0 0 1 452.15 74.36" fill="none" stroke="rgb(142, 138, 210)" stroke-width="1.7"/>
<path d="M451.49 74.00A71.69999999999999 71.69999999999999 0 0 1 456.46 77.00" fill="none" stroke="rgb(140, 140, 212)" stroke-width="1.7"/>
<path d="M455.83 76.59A71.69999999999999 71.69999999999999 0 0 1 460.57 79.93" fill="none" stroke="rgb(139, 141, 213)" stroke-width="1.7"/>
<path d="M459.97 79.48A71.69999999999999 71.69999999999999 0 0 1 464.47 83.15" fill="none" stroke="rgb(138, 142, 214)" stroke-width="1.7"/>
<path d="M463.90 82.66A71.69999999999999 71.69999999999999 0 0 1 467.60 86.10" fill="none" stroke="rgb(137, 143, 215)" stroke-width="1.7"/>
<line x1="467.60" y1="86.10" x2="470.23" y2="83.47" stroke="rgb(93, 134, 215)" stroke-width="1.7" stroke-linecap="butt"/>
<line x1="470.01" y1="83.69" x2="472.64" y2="81.06" stroke="rgb(71, 130, 212)" stroke-width="1.7" stroke-linecap="butt"/>
<line x1="472.43" y1="81.27" x2="475.05" y2="78.65" stroke="rgb(49, 125, 209)" stroke-width="1.7" stroke-linecap="butt"/>
<line x1="474.84" y1="78.86" x2="477.47" y2="76.23" stroke="rgb(39, 123, 207)" stroke-width="1.7" stroke-linecap="butt"/>
<line x1="477.26" y1="76.44" x2="479.88" y2="73.82" stroke="rgb(36, 122, 206)" stroke-width="1.7" stroke-linecap="butt"/>
<line x1="479.67" y1="74.03" x2="482.30" y2="71.40" stroke="rgb(32, 121, 205)" stroke-width="1.7" stroke-linecap="butt"/>
<line x1="482.09" y1="71.61" x2="484.50" y2="69.20" stroke="rgb(28, 120, 204)" stroke-width="1.7" stroke-linecap="butt"/>
<line x1="407.54" y1="65.71" x2="406.98" y2="61.47" stroke="rgb(146, 122, 197)" stroke-width="1.7" stroke-linecap="butt"/>
<line x1="407.02" y1="61.76" x2="406.46" y2="57.52" stroke="rgb(130, 118, 192)" stroke-width="1.7" stroke-linecap="butt"/>
<line x1="406.50" y1="57.81" x2="405.98" y2="53.87" stroke="rgb(114, 114, 187)" stroke-width="1.7" stroke-linecap="butt"/>
<path d="M381.55 60.99A83.64999999999999 83.64999999999999 0 0 1 388.26 58.21" fill="none" stroke="rgb(26, 116, 192)" stroke-width="1.7"/>
<path d="M387.43 58.51A83.64999999999999 83.64999999999999 0 0 1 394.33 56.25" fill="none" stroke="rgb(26, 116, 192)" stroke-width="1.7"/>
<path d="M393.49 56.49A83.64999999999999 83.64999999999999 0 0 1 400.54 54.76" fill="none" stroke="rgb(26, 116, 192)" stroke-width="1.7"/>
<path d="M399.69 54.94A83.64999999999999 83.64999999999999 0 0 1 406.85 53.76" fill="none" stroke="rgb(26, 116, 192)" stroke-width="1.7"/>
<path d="M405.98 53.87A83.64999999999999 83.64999999999999 0 0 1 413.21 53.23" fill="none" stroke="rgb(26, 116, 192)" stroke-width="1.7"/>
<path d="M412.34 53.27A83.64999999999999 83.64999999999999 0 0 1 419.60 53.19" fill="none" stroke="rgb(26, 116, 192)" stroke-width="1.7"/>
<path d="M418.72 53.17A83.64999999999999 83.64999999999999 0 0 1 425.97 53.64" fill="none" stroke="rgb(26, 116, 192)" stroke-width="1.7"/>
<path d="M425.10 53.55A83.64999999999999 83.64999999999999 0 0 1 431.43 54.42" fill="none" stroke="rgb(26, 116, 192)" stroke-width="1.7"/>
<line x1="381.55" y1="60.99" x2="379.74" y2="57.11" stroke="rgb(35, 149, 212)" stroke-width="1.7" stroke-linecap="butt"/>
<line x1="379.86" y1="57.38" x2="378.05" y2="53.50" stroke="rgb(40, 160, 220)" stroke-width="1.7" stroke-linecap="butt"/>
<line x1="378.18" y1="53.77" x2="376.50" y2="50.16" stroke="rgb(45, 171, 228)" stroke-width="1.7" stroke-linecap="butt"/>
<line x1="431.43" y1="54.42" x2="432.17" y2="50.20" stroke="rgb(26, 116, 192)" stroke-width="1.7" stroke-linecap="butt"/>
<line x1="432.12" y1="50.50" x2="432.86" y2="46.28" stroke="rgb(26, 116, 192)" stroke-width="1.7" stroke-linecap="butt"/>
<line x1="432.81" y1="46.58" x2="433.50" y2="42.65" stroke="rgb(26, 116, 192)" stroke-width="1.7" stroke-linecap="butt"/>
<line x1="476.14" y1="144.60" x2="479.82" y2="145.08" stroke="rgb(85, 57, 10)" stroke-width="1.7" stroke-linecap="butt"/>
<line x1="479.52" y1="145.04" x2="483.21" y2="145.53" stroke="rgb(108, 51, 14)" stroke-width="1.7" stroke-linecap="butt"/>
<line x1="482.91" y1="145.49" x2="486.59" y2="145.98" stroke="rgb(138, 45, 19)" stroke-width="1.7" stroke-linecap="butt"/>
<line x1="486.29" y1="145.94" x2="489.98" y2="146.42" stroke="rgb(179, 37, 27)" stroke-width="1.7" stroke-linecap="butt"/>
<line x1="489.68" y1="146.38" x2="493.36" y2="146.87" stroke="rgb(210, 32, 32)" stroke-width="1.7" stroke-linecap="butt"/>
<line x1="493.06" y1="146.83" x2="496.75" y2="147.31" stroke="rgb(215, 30, 34)" stroke-width="1.7" stroke-linecap="butt"/>
<line x1="496.45" y1="147.27" x2="499.83" y2="147.72" stroke="rgb(221, 29, 35)" stroke-width="1.7" stroke-linecap="butt"/>
<path d="M499.28 122.27A83.64999999999999 83.64999999999999 0 0 1 500.23 129.47" fill="none" stroke="rgb(224, 28, 36)" stroke-width="1.7"/>
<path d="M500.15 128.60A83.64999999999999 83.64999999999999 0 0 1 500.54 135.85" fill="none" stroke="rgb(224, 28, 36)" stroke-width="1.7"/>
<path d="M500.53 134.98A83.64999999999999 83.64999999999999 0 0 1 500.37 142.23" fill="none" stroke="rgb(224, 28, 36)" stroke-width="1.7"/>
<path d="M500.43 141.36A83.64999999999999 83.64999999999999 0 0 1 499.72 148.59" fill="none" stroke="rgb(224, 28, 36)" stroke-width="1.7"/>
<path d="M499.83 147.72A83.64999999999999 83.64999999999999 0 0 1 498.58 154.87" fill="none" stroke="rgb(224, 28, 36)" stroke-width="1.7"/>
<path d="M498.76 154.01A83.64999999999999 83.64999999999999 0 0 1 496.96 161.05" fill="none" stroke="rgb(224, 28, 36)" stroke-width="1.7"/>
<path d="M497.21 160.21A83.64999999999999 83.64999999999999 0 0 1 494.88 167.08" fill="none" stroke="rgb(224, 28, 36)" stroke-width="1.7"/>
<path d="M495.19 166.27A83.64999999999999 83.64999999999999 0 0 1 492.71 172.15" fill="none" stroke="rgb(224, 28, 36)" stroke-width="1.7"/>
<line x1="499.28" y1="122.27" x2="503.50" y2="121.53" stroke="rgb(0, 0, 0)" stroke-width="1.7" stroke-linecap="butt"/>
<line x1="503.20" y1="121.58" x2="507.42" y2="120.84" stroke="rgb(0, 0, 0)" stroke-width="1.7" stroke-linecap="butt"/>
<line x1="507.12" y1="120.89" x2="511.05" y2="120.20" stroke="rgb(0, 0, 0)" stroke-width="1.7" stroke-linecap="butt"/>
<line x1="492.71" y1="172.15" x2="496.59" y2="173.96" stroke="rgb(0, 0, 0)" stroke-width="1.7" stroke-linecap="butt"/>
<line x1="496.32" y1="173.84" x2="500.20" y2="175.65" stroke="rgb(0, 0, 0)" stroke-width="1.7" stroke-linecap="butt"/>
<line x1="499.93" y1="175.52" x2="503.54" y2="177.20" stroke="rgb(0, 0, 0)" stroke-width="1.7" stroke-linecap="butt"/>
<line x1="399.19" y1="181.20" x2="397.81" y2="184.65" stroke="rgb(11, 10, 35)" stroke-width="1.7" stroke-linecap="butt"/>
<line x1="397.92" y1="184.37" x2="396.55" y2="187.82" stroke="rgb(12, 11, 41)" stroke-width="1.7" stroke-linecap="butt"/>
<line x1="396.66" y1="187.54" x2="395.28" y2="190.99" stroke="rgb(14, 12, 47)" stroke-width="1.7" stroke-linecap="butt"/>
<line x1="395.39" y1="190.71" x2="394.02" y2="194.16" stroke="rgb(15, 13, 53)" stroke-width="1.7" stroke-linecap="butt"/>
<line x1="394.13" y1="193.88" x2="392.75" y2="197.33" stroke="rgb(16, 14, 59)" stroke-width="1.7" stroke-linecap="butt"/>
<line x1="392.86" y1="197.05" x2="391.49" y2="200.50" stroke="rgb(18, 15, 65)" stroke-width="1.7" stroke-linecap="butt"/>
<line x1="391.60" y1="200.22" x2="390.33" y2="203.40" stroke="rgb(19, 16, 71)" stroke-width="1.7" stroke-linecap="butt"/>
<path d="M432.42 206.80A71.69999999999999 71.69999999999999 0 0 1 426.61 207.84" fill="none" stroke="rgb(14, 13, 46)" stroke-width="1.7"/>
<path d="M427.35 207.73A71.69999999999999 71.69999999999999 0 0 1 421.48 208.35" fill="none" stroke="rgb(18, 14, 59)" stroke-width="1.7"/>
<path d="M422.23 208.30A71.69999999999999 71.69999999999999 0 0 1 416.33 208.50" fill="none" stroke="rgb(22, 16, 72)" stroke-width="1.7"/>
<path d="M417.08 208.50A71.69999999999999 71.69999999999999 0 0 1 411.19 208.27" fill="none" stroke="rgb(26, 17, 85)" stroke-width="1.7"/>
<path d="M411.94 208.33A71.69999999999999 71.69999999999999 0 0 1 406.07 207.68" fill="none" stroke="rgb(30, 19, 98)" stroke-width="1.7"/>
<path d="M406.81 207.79A71.69999999999999 71.69999999999999 0 0 1 401.01 206.72" fill="none" stroke="rgb(33, 20, 107)" stroke-width="1.7"/>
<path d="M401.74 206.88A71.69999999999999 71.69999999999999 0 0 1 396.03 205.39" fill="none" stroke="rgb(35, 21, 110)" stroke-width="1.7"/>
<path d="M396.75 205.61A71.69999999999999 71.69999999999999 0 0 1 391.16 203.72" fill="none" stroke="rgb(37, 22, 113)" stroke-width="1.7"/>
<path d="M391.86 203.99A71.69999999999999 71.69999999999999 0 0 1 386.42 201.70" fill="none" stroke="rgb(39, 23, 115)" stroke-width="1.7"/>
<path d="M387.10 202.01A71.69999999999999 71.69999999999999 0 0 1 381.84 199.34" fill="none" stroke="rgb(41, 23, 118)" stroke-width="1.7"/>
<path d="M382.49 199.71A71.69999999999999 71.69999999999999 0 0 1 377.44 196.66" fill="none" stroke="rgb(43, 24, 120)" stroke-width="1.7"/>
<path d="M378.07 197.07A71.69999999999999 71.69999999999999 0 0 1 373.24 193.67" fill="none" stroke="rgb(45, 24, 118)" stroke-width="1.7"/>
<path d="M373.84 194.13A71.69999999999999 71.69999999999999 0 0 1 369.27 190.39" fill="none" stroke="rgb(47, 24, 117)" stroke-width="1.7"/>
<path d="M369.83 190.89A71.69999999999999 71.69999999999999 0 0 1 365.54 186.83" fill="none" stroke="rgb(50, 24, 116)" stroke-width="1.7"/>
<path d="M366.07 187.37A71.69999999999999 71.69999999999999 0 0 1 362.08 183.02" fill="none" stroke="rgb(52, 24, 115)" stroke-width="1.7"/>
<path d="M362.57 183.59A71.69999999999999 71.69999999999999 0 0 1 358.91 178.96" fill="none" stroke="rgb(54, 24, 114)" stroke-width="1.7"/>
<path d="M359.35 179.57A71.69999999999999 71.69999999999999 0 0 1 356.43 175.32" fill="none" stroke="rgb(57, 24, 113)" stroke-width="1.7"/>
<line x1="356.43" y1="175.32" x2="352.82" y2="177.63" stroke="rgb(39, 21, 81)" stroke-width="1.7" stroke-linecap="butt"/>
<line x1="353.07" y1="177.46" x2="349.46" y2="179.77" stroke="rgb(66, 22, 84)" stroke-width="1.7" stroke-linecap="butt"/>
<line x1="349.71" y1="179.60" x2="346.35" y2="181.75" stroke="rgb(93, 23, 87)" stroke-width="1.7" stroke-linecap="butt"/>
<path d="M363.13 200.88A83.64999999999999 83.64999999999999 0 0 1 357.78 195.98" fill="none" stroke="rgb(159, 24, 65)" stroke-width="1.7"/>
<path d="M358.40 196.59A83.64999999999999 83.64999999999999 0 0 1 353.43 191.29" fill="none" stroke="rgb(157, 24, 66)" stroke-width="1.7"/>
<path d="M354.01 191.95A83.64999999999999 83.64999999999999 0 0 1 349.46 186.29" fill="none" stroke="rgb(155, 24, 68)" stroke-width="1.7"/>
<path d="M349.98 187.00A83.64999999999999 83.64999999999999 0 0 1 345.88 181.00" fill="none" stroke="rgb(153, 24, 69)" stroke-width="1.7"/>
<path d="M346.35 181.75A83.64999999999999 83.64999999999999 0 0 1 342.72 175.46" fill="none" stroke="rgb(151, 24, 71)" stroke-width="1.7"/>
<path d="M343.13 176.23A83.64999999999999 83.64999999999999 0 0 1 339.99 169.69" fill="none" stroke="rgb(149, 24, 72)" stroke-width="1.7"/>
<path d="M340.33 170.49A83.64999999999999 83.64999999999999 0 0 1 337.70 163.72" fill="none" stroke="rgb(147, 24, 74)" stroke-width="1.7"/>
<path d="M337.99 164.55A83.64999999999999 83.64999999999999 0 0 1 336.10 158.45" fill="none" stroke="rgb(145, 24, 75)" stroke-width="1.7"/>
<line x1="363.13" y1="200.88" x2="360.38" y2="204.16" stroke="rgb(160, 24, 64)" stroke-width="1.7" stroke-linecap="butt"/>
<line x1="360.57" y1="203.93" x2="357.82" y2="207.21" stroke="rgb(160, 24, 64)" stroke-width="1.7" stroke-linecap="butt"/>
<line x1="358.01" y1="206.98" x2="355.45" y2="210.03" stroke="rgb(160, 24, 64)" stroke-width="1.7" stroke-linecap="butt"/>
<line x1="336.10" y1="158.45" x2="331.96" y2="159.56" stroke="rgb(141, 24, 83)" stroke-width="1.7" stroke-linecap="butt"/>
<line x1="332.25" y1="159.48" x2="328.12" y2="160.59" stroke="rgb(136, 24, 88)" stroke-width="1.7" stroke-linecap="butt"/>
<line x1="328.41" y1="160.51" x2="324.56" y2="161.54" stroke="rgb(131, 24, 93)" stroke-width="1.7" stroke-linecap="butt"/>
<line x1="432.42" y1="206.80" x2="433.35" y2="210.98" stroke="rgb(32, 20, 68)" stroke-width="1.7" stroke-linecap="butt"/>
<line x1="433.28" y1="210.69" x2="434.21" y2="214.87" stroke="rgb(48, 27, 75)" stroke-width="1.7" stroke-linecap="butt"/>
<line x1="434.14" y1="214.58" x2="435.01" y2="218.47" stroke="rgb(89, 46, 59)" stroke-width="1.7" stroke-linecap="butt"/>
<path d="M458.72 209.24A83.64999999999999 83.64999999999999 0 0 1 452.29 212.60" fill="none" stroke="rgb(199, 111, 28)" stroke-width="1.7"/>
<path d="M453.08 212.22A83.64999999999999 83.64999999999999 0 0 1 446.40 215.08" fill="none" stroke="rgb(197, 108, 27)" stroke-width="1.7"/>
<path d="M447.22 214.76A83.64999999999999 83.64999999999999 0 0 1 440.34 217.10" fill="none" stroke="rgb(195, 106, 27)" stroke-width="1.7"/>
<path d="M441.18 216.85A83.64999999999999 83.64999999999999 0 0 1 434.15 218.65" fill="none" stroke="rgb(193, 103, 26)" stroke-width="1.7"/>
<path d="M435.01 218.47A83.64999999999999 83.64999999999999 0 0 1 427.85 219.73" fill="none" stroke="rgb(191, 101, 26)" stroke-width="1.7"/>
<path d="M428.72 219.61A83.64999999999999 83.64999999999999 0 0 1 421.50 220.32" fill="none" stroke="rgb(189, 100, 25)" stroke-width="1.7"/>
<path d="M422.37 220.27A83.64999999999999 83.64999999999999 0 0 1 415.11 220.43" fill="none" stroke="rgb(187, 98, 25)" stroke-width="1.7"/>
<path d="M415.99 220.45A83.64999999999999 83.64999999999999 0 0 1 409.61 220.13" fill="none" stroke="rgb(185, 97, 24)" stroke-width="1.7"/>
<line x1="458.72" y1="209.24" x2="460.87" y2="212.95" stroke="rgb(197, 111, 29)" stroke-width="1.7" stroke-linecap="butt"/>
<line x1="460.72" y1="212.69" x2="462.86" y2="216.40" stroke="rgb(192, 109, 30)" stroke-width="1.7" stroke-linecap="butt"/>
<line x1="462.71" y1="216.14" x2="464.70" y2="219.59" stroke="rgb(187, 107, 31)" stroke-width="1.7" stroke-linecap="butt"/>
<line x1="409.61" y1="220.13" x2="409.24" y2="224.40" stroke="rgb(185, 99, 26)" stroke-width="1.7" stroke-linecap="butt"/>
<line x1="409.26" y1="224.10" x2="408.89" y2="228.37" stroke="rgb(188, 106, 30)" stroke-width="1.7" stroke-linecap="butt"/>
<line x1="408.92" y1="228.07" x2="408.57" y2="232.04" stroke="rgb(191, 113, 34)" stroke-width="1.7" stroke-linecap="butt"/>
<text class="se" font-size="6.25" stroke="#000" stroke-width="0.2" text-anchor="start" transform="translate(510.65 120.27) rotate(-10.0)" y="2">AT3G59760</text>
<text class="se" font-size="6.25" stroke="#000" stroke-width="0.2" text-anchor="start" transform="translate(503.18 177.03) rotate(25.0)" y="2">AT3G61440</text>
<text class="se" font-size="6.25" stroke="#000" stroke-width="0.2" text-anchor="start" transform="translate(464.50 219.25) rotate(60.0)" y="2">AT1G52340</text>
<text class="se" font-size="6.25" stroke="#000" stroke-width="0.2" text-anchor="end" transform="translate(408.60 231.64) rotate(-85.0)" y="2">AT1G05240</text>
<text class="se" font-size="6.25" stroke="#000" stroke-width="0.2" text-anchor="end" transform="translate(355.71 209.73) rotate(-50.0)" y="2">AT2G27150</text>
<text class="se" font-size="6.25" stroke="#000" stroke-width="0.2" text-anchor="end" transform="translate(324.94 161.44) rotate(-15.0)" y="2">AT3G26115</text>
<text class="se" font-size="6.25" stroke="#000" stroke-width="0.2" text-anchor="end" transform="translate(327.44 104.24) rotate(20.0)" y="2">AT5G07390</text>
<text class="se" font-size="6.25" stroke="#000" stroke-width="0.2" text-anchor="end" transform="translate(334.45 89.20) rotate(30.0)" y="2">AT5G04590</text>
<text class="se" font-size="6.25" stroke="#000" stroke-width="0.2" text-anchor="end" transform="translate(376.67 50.52) rotate(65.0)" y="2">AT1G77760</text>
<text class="se" font-size="6.25" stroke="#000" stroke-width="0.2" text-anchor="start" transform="translate(433.43 43.05) rotate(-80.0)" y="2">AT3G01910</text>
<text class="se" font-size="6.25" stroke="#000" stroke-width="0.2" text-anchor="start" transform="translate(484.22 69.48) rotate(-45.0)" y="2">AT3G62130</text>
<text class="se" x="9.8" y="219.1" font-size="10.5" stroke="#000" stroke-width="0.15">(C)</text>
<rect x="8" y="256" width="337" height="155" fill="#f6f4f0"/>
<path d="M290.5 374.5 C296 373.5 301 372.5 305 372.8 C309 373.5 311 375.5 314 376 C318 377 322 377.3 326 376.6 C332 375.5 338 374.5 345 372.5 L345 386 L337 387 L345 397 L345 405.5 C342 403 339 400 336 397.5 C332 394 329 391.5 325 390 C321 388.5 318 388 314.5 386.8 C309 385 305 383.5 301 381.5 C297 379.5 294 377 290.5 374.5 Z" fill="#fff"/>
<g class="sa" font-size="6.3" fill="#1c1c1c" stroke="#1c1c1c" stroke-width="0.2">
<text x="25" y="261.6">observed Coexpression in</text><text x="25" y="269.5">Arabidopsis thaliana:</text>
<text x="162" y="261.6">observed Coexpression in</text><text x="162" y="269.5">other organisms (transferred):</text>
</g>
<path d="M56 288.32 L56 369.17 L136.85 369.17 Z" fill="#e6e0e8"/>
<rect x="87.17" y="333.90" width="3.8" height="3.8" fill="#d8c9d5"/>
<rect x="87.17" y="348.60" width="3.8" height="3.8" fill="#d8c9d5"/>
<g class="sa" font-size="5.65" fill="#1c1c1c" stroke="#1c1c1c" stroke-width="0.2">
<text x="45" y="293.50" text-anchor="end" textLength="11.30" lengthAdjust="spacingAndGlyphs">NIA1</text>
<path d="M47.5 290.10 h4.6 l1.8 1.3 l-1.8 1.3 h-4.6 Z" fill="#f01414" stroke="#a00000" stroke-width="0.55" stroke-linejoin="round"/>
<path d="M58.42 376.7 v-4.3 l1.25 -1.7 l1.25 1.7 v4.3 Z" fill="#f01414" stroke="#a00000" stroke-width="0.55" stroke-linejoin="round"/>
<text text-anchor="end" transform="translate(61.67 379.3) rotate(-90)" textLength="11.30" lengthAdjust="spacingAndGlyphs">NIA1</text>
<text x="45" y="300.85" text-anchor="end" textLength="18.08" lengthAdjust="spacingAndGlyphs">RBOHA</text>
<path d="M47.5 297.45 h4.6 l1.8 1.3 l-1.8 1.3 h-4.6 Z" fill="#f8b878" stroke="#b06820" stroke-width="0.55" stroke-linejoin="round"/>
<path d="M65.78 376.7 v-4.3 l1.25 -1.7 l1.25 1.7 v4.3 Z" fill="#f8b878" stroke="#b06820" stroke-width="0.55" stroke-linejoin="round"/>
<text text-anchor="end" transform="translate(69.03 379.3) rotate(-90)" textLength="18.08" lengthAdjust="spacingAndGlyphs">RBOHA</text>
<text x="45" y="308.20" text-anchor="end" textLength="10.17" lengthAdjust="spacingAndGlyphs">LCD</text>
<path d="M47.5 304.80 h4.6 l1.8 1.3 l-1.8 1.3 h-4.6 Z" fill="#c8b030" stroke="#806810" stroke-width="0.55" stroke-linejoin="round"/>
<path d="M73.12 376.7 v-4.3 l1.25 -1.7 l1.25 1.7 v4.3 Z" fill="#c8b030" stroke="#806810" stroke-width="0.55" stroke-linejoin="round"/>
<text text-anchor="end" transform="translate(76.38 379.3) rotate(-90)" textLength="10.17" lengthAdjust="spacingAndGlyphs">LCD</text>
<text x="45" y="315.55" text-anchor="end" textLength="13.00" lengthAdjust="spacingAndGlyphs">ABA2</text>
<path d="M47.5 312.15 h4.6 l1.8 1.3 l-1.8 1.3 h-4.6 Z" fill="#b0f078" stroke="#50a020" stroke-width="0.55" stroke-linejoin="round"/>
<path d="M80.47 376.7 v-4.3 l1.25 -1.7 l1.25 1.7 v4.3 Z" fill="#b0f078" stroke="#50a020" stroke-width="0.55" stroke-linejoin="round"/>
<text text-anchor="end" transform="translate(83.72 379.3) rotate(-90)" textLength="13.00" lengthAdjust="spacingAndGlyphs">ABA2</text>
<text x="45" y="322.90" text-anchor="end" textLength="8.48" lengthAdjust="spacingAndGlyphs">SIR</text>
<path d="M47.5 319.50 h4.6 l1.8 1.3 l-1.8 1.3 h-4.6 Z" fill="#10a830" stroke="#006010" stroke-width="0.55" stroke-linejoin="round"/>
<path d="M87.82 376.7 v-4.3 l1.25 -1.7 l1.25 1.7 v4.3 Z" fill="#10a830" stroke="#006010" stroke-width="0.55" stroke-linejoin="round"/>
<text text-anchor="end" transform="translate(91.07 379.3) rotate(-90)" textLength="8.48" lengthAdjust="spacingAndGlyphs">SIR</text>
<text x="45" y="330.25" text-anchor="end" textLength="30.05" lengthAdjust="spacingAndGlyphs">AT1G05240</text>
<path d="M47.5 326.85 h4.6 l1.8 1.3 l-1.8 1.3 h-4.6 Z" fill="#30e8a8" stroke="#10a070" stroke-width="0.55" stroke-linejoin="round"/>
<path d="M95.17 376.7 v-4.3 l1.25 -1.7 l1.25 1.7 v4.3 Z" fill="#30e8a8" stroke="#10a070" stroke-width="0.55" stroke-linejoin="round"/>
<text text-anchor="end" transform="translate(98.42 379.3) rotate(-90)" textLength="30.05" lengthAdjust="spacingAndGlyphs">AT1G05240</text>
<text x="45" y="337.60" text-anchor="end" textLength="14.41" lengthAdjust="spacingAndGlyphs">OASC</text>
<path d="M47.5 334.20 h4.6 l1.8 1.3 l-1.8 1.3 h-4.6 Z" fill="#10a8a0" stroke="#006860" stroke-width="0.55" stroke-linejoin="round"/>
<path d="M102.53 376.7 v-4.3 l1.25 -1.7 l1.25 1.7 v4.3 Z" fill="#10a8a0" stroke="#006860" stroke-width="0.55" stroke-linejoin="round"/>
<text text-anchor="end" transform="translate(105.78 379.3) rotate(-90)" textLength="14.41" lengthAdjust="spacingAndGlyphs">OASC</text>
<text x="45" y="344.95" text-anchor="end" textLength="29.63" lengthAdjust="spacingAndGlyphs">AT3G26115</text>
<path d="M47.5 341.55 h4.6 l1.8 1.3 l-1.8 1.3 h-4.6 Z" fill="#28c8f0" stroke="#1080b0" stroke-width="0.55" stroke-linejoin="round"/>
<path d="M109.88 376.7 v-4.3 l1.25 -1.7 l1.25 1.7 v4.3 Z" fill="#28c8f0" stroke="#1080b0" stroke-width="0.55" stroke-linejoin="round"/>
<text text-anchor="end" transform="translate(113.12 379.3) rotate(-90)" textLength="29.63" lengthAdjust="spacingAndGlyphs">AT3G26115</text>
<text x="45" y="352.30" text-anchor="end" textLength="16.96" lengthAdjust="spacingAndGlyphs">CYSC1</text>
<path d="M47.5 348.90 h4.6 l1.8 1.3 l-1.8 1.3 h-4.6 Z" fill="#101090" stroke="#000050" stroke-width="0.55" stroke-linejoin="round"/>
<path d="M117.22 376.7 v-4.3 l1.25 -1.7 l1.25 1.7 v4.3 Z" fill="#101090" stroke="#000050" stroke-width="0.55" stroke-linejoin="round"/>
<text text-anchor="end" transform="translate(120.47 379.3) rotate(-90)" textLength="16.96" lengthAdjust="spacingAndGlyphs">CYSC1</text>
<text x="45" y="359.65" text-anchor="end" textLength="13.57" lengthAdjust="spacingAndGlyphs">AAO3</text>
<path d="M47.5 356.25 h4.6 l1.8 1.3 l-1.8 1.3 h-4.6 Z" fill="#a060e8" stroke="#6030a0" stroke-width="0.55" stroke-linejoin="round"/>
<path d="M124.58 376.7 v-4.3 l1.25 -1.7 l1.25 1.7 v4.3 Z" fill="#a060e8" stroke="#6030a0" stroke-width="0.55" stroke-linejoin="round"/>
<text text-anchor="end" transform="translate(127.83 379.3) rotate(-90)" textLength="13.57" lengthAdjust="spacingAndGlyphs">AAO3</text>
<text x="45" y="367.00" text-anchor="end" textLength="10.74" lengthAdjust="spacingAndGlyphs">SOX</text>
<path d="M47.5 363.60 h4.6 l1.8 1.3 l-1.8 1.3 h-4.6 Z" fill="#f07888" stroke="#b04050" stroke-width="0.55" stroke-linejoin="round"/>
<path d="M131.93 376.7 v-4.3 l1.25 -1.7 l1.25 1.7 v4.3 Z" fill="#f07888" stroke="#b04050" stroke-width="0.55" stroke-linejoin="round"/>
<text text-anchor="end" transform="translate(135.18 379.3) rotate(-90)" textLength="10.74" lengthAdjust="spacingAndGlyphs">SOX</text>
</g>
<path d="M193.0 288.32 L193.0 369.17 L273.85 369.17 Z" fill="#e6e0e8"/>
<rect x="194.78" y="304.50" width="3.8" height="3.8" fill="#d8c9d5"/>
<rect x="194.78" y="311.85" width="3.8" height="3.8" fill="#e2dae3"/>
<rect x="194.78" y="333.90" width="3.8" height="3.8" fill="#ded3dc"/>
<rect x="209.47" y="333.90" width="3.8" height="3.8" fill="#d8c9d5"/>
<rect x="224.17" y="333.90" width="3.8" height="3.8" fill="#d8c9d5"/>
<rect x="194.78" y="348.60" width="3.8" height="3.8" fill="#ded3dc"/>
<rect x="209.47" y="348.60" width="3.8" height="3.8" fill="#d8c9d5"/>
<rect x="224.17" y="348.60" width="3.8" height="3.8" fill="#d8c9d5"/>
<rect x="224.17" y="363.30" width="3.8" height="3.8" fill="#d8c9d5"/>
<rect x="194.78" y="355.95" width="3.8" height="3.8" fill="#e2dae3"/>
<g class="sa" font-size="5.65" fill="#1c1c1c" stroke="#1c1c1c" stroke-width="0.2">
<text x="183" y="293.50" text-anchor="end" textLength="11.30" lengthAdjust="spacingAndGlyphs">NIA1</text>
<path d="M185.3 290.10 h4.6 l1.8 1.3 l-1.8 1.3 h-4.6 Z" fill="#f01414" stroke="#a00000" stroke-width="0.55" stroke-linejoin="round"/>
<path d="M195.43 376.7 v-4.3 l1.25 -1.7 l1.25 1.7 v4.3 Z" fill="#f01414" stroke="#a00000" stroke-width="0.55" stroke-linejoin="round"/>
<text text-anchor="end" transform="translate(198.68 379.3) rotate(-90)" textLength="11.30" lengthAdjust="spacingAndGlyphs">NIA1</text>
<text x="183" y="300.85" text-anchor="end" textLength="18.08" lengthAdjust="spacingAndGlyphs">RBOHA</text>
<path d="M185.3 297.45 h4.6 l1.8 1.3 l-1.8 1.3 h-4.6 Z" fill="#f8b878" stroke="#b06820" stroke-width="0.55" stroke-linejoin="round"/>
<path d="M202.78 376.7 v-4.3 l1.25 -1.7 l1.25 1.7 v4.3 Z" fill="#f8b878" stroke="#b06820" stroke-width="0.55" stroke-linejoin="round"/>
<text text-anchor="end" transform="translate(206.03 379.3) rotate(-90)" textLength="18.08" lengthAdjust="spacingAndGlyphs">RBOHA</text>
<text x="183" y="308.20" text-anchor="end" textLength="10.17" lengthAdjust="spacingAndGlyphs">LCD</text>
<path d="M185.3 304.80 h4.6 l1.8 1.3 l-1.8 1.3 h-4.6 Z" fill="#c8b030" stroke="#806810" stroke-width="0.55" stroke-linejoin="round"/>
<path d="M210.12 376.7 v-4.3 l1.25 -1.7 l1.25 1.7 v4.3 Z" fill="#c8b030" stroke="#806810" stroke-width="0.55" stroke-linejoin="round"/>
<text text-anchor="end" transform="translate(213.38 379.3) rotate(-90)" textLength="10.17" lengthAdjust="spacingAndGlyphs">LCD</text>
<text x="183" y="315.55" text-anchor="end" textLength="13.00" lengthAdjust="spacingAndGlyphs">ABA2</text>
<path d="M185.3 312.15 h4.6 l1.8 1.3 l-1.8 1.3 h-4.6 Z" fill="#b0f078" stroke="#50a020" stroke-width="0.55" stroke-linejoin="round"/>
<path d="M217.47 376.7 v-4.3 l1.25 -1.7 l1.25 1.7 v4.3 Z" fill="#b0f078" stroke="#50a020" stroke-width="0.55" stroke-linejoin="round"/>
<text text-anchor="end" transform="translate(220.72 379.3) rotate(-90)" textLength="13.00" lengthAdjust="spacingAndGlyphs">ABA2</text>
<text x="183" y="322.90" text-anchor="end" textLength="8.48" lengthAdjust="spacingAndGlyphs">SIR</text>
<path d="M185.3 319.50 h4.6 l1.8 1.3 l-1.8 1.3 h-4.6 Z" fill="#10a830" stroke="#006010" stroke-width="0.55" stroke-linejoin="round"/>
<path d="M224.82 376.7 v-4.3 l1.25 -1.7 l1.25 1.7 v4.3 Z" fill="#10a830" stroke="#006010" stroke-width="0.55" stroke-linejoin="round"/>
<text text-anchor="end" transform="translate(228.07 379.3) rotate(-90)" textLength="8.48" lengthAdjust="spacingAndGlyphs">SIR</text>
<text x="183" y="330.25" text-anchor="end" textLength="30.05" lengthAdjust="spacingAndGlyphs">AT1G05240</text>
<path d="M185.3 326.85 h4.6 l1.8 1.3 l-1.8 1.3 h-4.6 Z" fill="#30e8a8" stroke="#10a070" stroke-width="0.55" stroke-linejoin="round"/>
<path d="M232.18 376.7 v-4.3 l1.25 -1.7 l1.25 1.7 v4.3 Z" fill="#30e8a8" stroke="#10a070" stroke-width="0.55" stroke-linejoin="round"/>
<text text-anchor="end" transform="translate(235.43 379.3) rotate(-90)" textLength="30.05" lengthAdjust="spacingAndGlyphs">AT1G05240</text>
<text x="183" y="337.60" text-anchor="end" textLength="14.41" lengthAdjust="spacingAndGlyphs">OASC</text>
<path d="M185.3 334.20 h4.6 l1.8 1.3 l-1.8 1.3 h-4.6 Z" fill="#10a8a0" stroke="#006860" stroke-width="0.55" stroke-linejoin="round"/>
<path d="M239.53 376.7 v-4.3 l1.25 -1.7 l1.25 1.7 v4.3 Z" fill="#10a8a0" stroke="#006860" stroke-width="0.55" stroke-linejoin="round"/>
<text text-anchor="end" transform="translate(242.78 379.3) rotate(-90)" textLength="14.41" lengthAdjust="spacingAndGlyphs">OASC</text>
<text x="183" y="344.95" text-anchor="end" textLength="29.63" lengthAdjust="spacingAndGlyphs">AT3G26115</text>
<path d="M185.3 341.55 h4.6 l1.8 1.3 l-1.8 1.3 h-4.6 Z" fill="#28c8f0" stroke="#1080b0" stroke-width="0.55" stroke-linejoin="round"/>
<path d="M246.88 376.7 v-4.3 l1.25 -1.7 l1.25 1.7 v4.3 Z" fill="#28c8f0" stroke="#1080b0" stroke-width="0.55" stroke-linejoin="round"/>
<text text-anchor="end" transform="translate(250.12 379.3) rotate(-90)" textLength="29.63" lengthAdjust="spacingAndGlyphs">AT3G26115</text>
<text x="183" y="352.30" text-anchor="end" textLength="16.96" lengthAdjust="spacingAndGlyphs">CYSC1</text>
<path d="M185.3 348.90 h4.6 l1.8 1.3 l-1.8 1.3 h-4.6 Z" fill="#101090" stroke="#000050" stroke-width="0.55" stroke-linejoin="round"/>
<path d="M254.22 376.7 v-4.3 l1.25 -1.7 l1.25 1.7 v4.3 Z" fill="#101090" stroke="#000050" stroke-width="0.55" stroke-linejoin="round"/>
<text text-anchor="end" transform="translate(257.48 379.3) rotate(-90)" textLength="16.96" lengthAdjust="spacingAndGlyphs">CYSC1</text>
<text x="183" y="359.65" text-anchor="end" textLength="13.57" lengthAdjust="spacingAndGlyphs">AAO3</text>
<path d="M185.3 356.25 h4.6 l1.8 1.3 l-1.8 1.3 h-4.6 Z" fill="#a060e8" stroke="#6030a0" stroke-width="0.55" stroke-linejoin="round"/>
<path d="M261.57 376.7 v-4.3 l1.25 -1.7 l1.25 1.7 v4.3 Z" fill="#a060e8" stroke="#6030a0" stroke-width="0.55" stroke-linejoin="round"/>
<text text-anchor="end" transform="translate(264.82 379.3) rotate(-90)" textLength="13.57" lengthAdjust="spacingAndGlyphs">AAO3</text>
<text x="183" y="367.00" text-anchor="end" textLength="10.74" lengthAdjust="spacingAndGlyphs">SOX</text>
<path d="M185.3 363.60 h4.6 l1.8 1.3 l-1.8 1.3 h-4.6 Z" fill="#f07888" stroke="#b04050" stroke-width="0.55" stroke-linejoin="round"/>
<path d="M268.93 376.7 v-4.3 l1.25 -1.7 l1.25 1.7 v4.3 Z" fill="#f07888" stroke="#b04050" stroke-width="0.55" stroke-linejoin="round"/>
<text text-anchor="end" transform="translate(272.18 379.3) rotate(-90)" textLength="10.74" lengthAdjust="spacingAndGlyphs">SOX</text>
</g>
<rect x="195.28" y="319.70" width="2.8" height="2.8" fill="#111"/>
<line x1="196.68" y1="321.10" x2="288.6" y2="287.1" stroke="#222" stroke-width="0.9"/>
<line x1="288.7" y1="282.5" x2="288.7" y2="373.8" stroke="#555" stroke-width="0.9"/>
<g class="sa" font-size="5.7" fill="#1c1c1c" stroke="#1c1c1c" stroke-width="0.2">
<text x="291.8" y="288.10">from O. sativa</text>
<text x="291.8" y="295.46">from C. reinhardtii</text>
<text x="291.8" y="302.82">from G. max</text>
<text x="291.8" y="310.18">from C. neoformans</text>
<text x="291.8" y="317.54">from D. discoideum</text>
<text x="291.8" y="324.90">from R. norvegicus</text>
<text x="291.8" y="332.26">from S. pombe</text>
<text x="291.8" y="339.62">from S. cerevisiae</text>
<text x="291.8" y="346.98">from C. albicans</text>
<text x="291.8" y="354.34">from P. falciparum</text>
<text x="291.8" y="361.70">from B. taurus</text>
</g>
</svg></body></html>
